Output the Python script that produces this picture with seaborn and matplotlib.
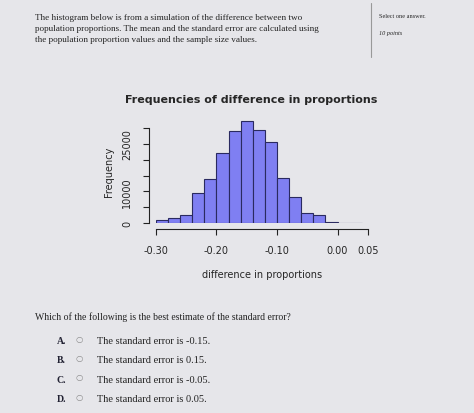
import numpy as np
import pandas as pd
import seaborn as sns
import matplotlib.pyplot as plt

# ---------- DATA
bin_edges = [-0.30, -0.28, -0.26, -0.24, -0.22, -0.20, -0.18, -0.16, -0.14,
             -0.12, -0.10, -0.08, -0.06, -0.04, -0.02, 0.00, 0.02, 0.04]
counts = [1000, 1500, 2500, 9500, 13900, 22100, 29200, 32300, 29400,
          25700, 14100, 8100, 3200, 2500, 200, 100, 100]
x_ticks = [-0.30, -0.20, -0.10, 0.00, 0.05]
x_labels = ["-0.30", "-0.20", "-0.10", "0.00", "0.05"]
y_ticks = [0, 5000, 10000, 15000, 20000, 25000, 30000]
y_labels = ["0", "", "10000", "", "", "25000", ""]
answers = [("A.", "The standard error is -0.15."),
           ("B.", "The standard error is 0.15."),
           ("C.", "The standard error is -0.05."),
           ("D.", "The standard error is 0.05.")]

centers = [(a + b) / 2 for a, b in zip(bin_edges[:-1], bin_edges[1:])]
df = pd.DataFrame({"diff": centers, "count": counts})

# ---------- PLOT
sns.set_theme(style="white")
bg = "#e6e6ea"
fig = plt.figure(figsize=(4.74, 4.14), dpi=100, facecolor=bg)
serif = ["Liberation Serif", "DejaVu Serif"]

ax = fig.add_axes([0.329, 0.459, 0.447, 0.252], facecolor=bg)
sns.histplot(data=df, x="diff", weights="count", bins=bin_edges,
             color="#7f7ff2", edgecolor="#2a2a60", linewidth=0.8,
             alpha=1, ax=ax)
ax.set_xlim(-0.30, 0.05)
ax.set_ylim(0, 33000)
for s in ["top", "right"]:
    ax.spines[s].set_visible(False)
ax.spines["left"].set_position(("outward", 5))
ax.spines["bottom"].set_position(("outward", 4))
ax.spines["left"].set_bounds(0, 30000)
ax.spines["bottom"].set_bounds(-0.30, 0.05)
for s in ["left", "bottom"]:
    ax.spines[s].set_color("#222")
    ax.spines[s].set_linewidth(0.8)
ax.set_xticks(x_ticks, x_labels, fontsize=7)
ax.set_yticks(y_ticks, y_labels, fontsize=7, rotation=90, va="center")
ax.tick_params(length=4, width=0.8, color="#222", bottom=True, left=True, pad=8)
ax.set_xlabel("difference in proportions", fontsize=7, labelpad=10)
ax.set_ylabel("Frequency", fontsize=7, labelpad=6)
ax.set_title("Frequencies of difference in proportions", fontsize=8,
             weight="bold", pad=12, x=0.45)

# ---------- SURROUNDING TEXT
para = ("The histogram below is from a simulation of the difference between two\n"
        "population proportions. The mean and the standard error are calculated using\n"
        "the population proportion values and the sample size values.")
fig.text(0.073, 0.965, para, fontsize=6.6, family=serif, va="top",
         linespacing=1.5, color="#222")
fig.add_artist(plt.Line2D([0.783, 0.783], [0.86, 0.99], color="#999", lw=0.8))
fig.text(0.8, 0.965, "Select one answer.", fontsize=4.5, family=serif, va="top")
fig.text(0.8, 0.925, "10 points", fontsize=4.5, family=serif, va="top", style="italic")
fig.text(0.073, 0.228, "Which of the following is the best estimate of the standard error?",
         fontsize=7, family=serif, color="#222")
for i, (k, t) in enumerate(answers):
    y = 0.168 - i * 0.046
    fig.text(0.12, y, k, fontsize=7, family=serif, weight="bold", color="#223")
    fig.text(0.16, y + 0.005, "\u25cb", fontsize=6, color="#888")
    fig.text(0.205, y, t, fontsize=7.5, family=serif, color="#222")

plt.savefig("out.png", dpi=100, facecolor=bg)
